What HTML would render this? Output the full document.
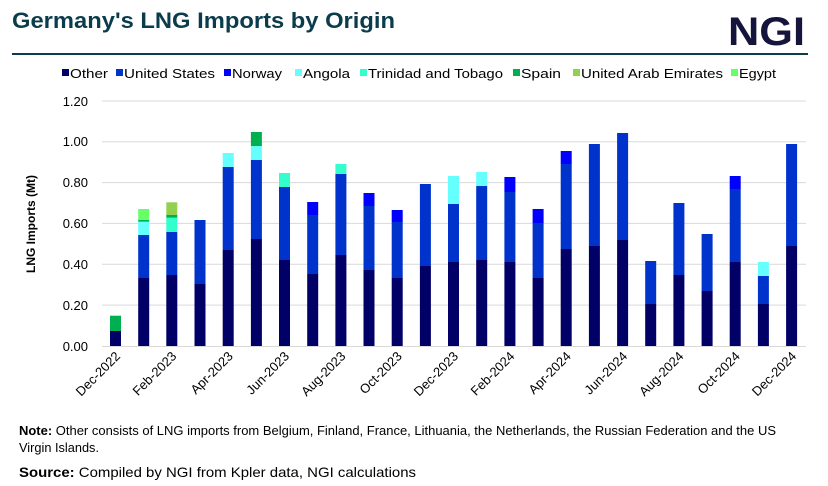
<!DOCTYPE html>
<html><head><meta charset="utf-8"><style>
body{margin:0;background:#fff;}
svg{display:block;font-family:"Liberation Sans",Arial,sans-serif;}
</style></head><body>
<svg width="828" height="486" viewBox="0 0 828 486" xmlns="http://www.w3.org/2000/svg">
<text x="12" y="28" font-size="22" font-weight="bold" fill="#0b3c4c" textLength="383" lengthAdjust="spacingAndGlyphs">Germany's LNG Imports by Origin</text>
<text x="728" y="45" font-size="40" font-weight="bold" fill="#14143c" textLength="77" lengthAdjust="spacingAndGlyphs">NGI</text>
<rect x="12" y="53" width="796" height="2" fill="#0b3c4c"/>
<g font-size="13" fill="#000">
<rect x="62" y="69" width="7" height="7" fill="#000066"/><text x="70" y="78" textLength="38" lengthAdjust="spacingAndGlyphs">Other</text>
<rect x="116" y="69" width="7" height="7" fill="#0033cc"/><text x="124" y="78" textLength="91" lengthAdjust="spacingAndGlyphs">United States</text>
<rect x="224" y="69" width="7" height="7" fill="#0000ff"/><text x="232" y="78" textLength="50" lengthAdjust="spacingAndGlyphs">Norway</text>
<rect x="295" y="69" width="7" height="7" fill="#66ffff"/><text x="303" y="78" textLength="47" lengthAdjust="spacingAndGlyphs">Angola</text>
<rect x="360" y="69" width="7" height="7" fill="#33ffcc"/><text x="368" y="78" textLength="135" lengthAdjust="spacingAndGlyphs">Trinidad and Tobago</text>
<rect x="513" y="69" width="7" height="7" fill="#00b050"/><text x="521" y="78" textLength="40" lengthAdjust="spacingAndGlyphs">Spain</text>
<rect x="573" y="69" width="7" height="7" fill="#92d050"/><text x="581" y="78" textLength="142" lengthAdjust="spacingAndGlyphs">United Arab Emirates</text>
<rect x="731" y="69" width="7" height="7" fill="#66ff66"/><text x="739" y="78" textLength="37" lengthAdjust="spacingAndGlyphs">Egypt</text>
</g>
<g stroke="#d9d9d9" stroke-width="1">
<line x1="102" x2="806" y1="305.1" y2="305.1"/><line x1="102" x2="806" y1="264.3" y2="264.3"/>
<line x1="102" x2="806" y1="223.4" y2="223.4"/><line x1="102" x2="806" y1="182.6" y2="182.6"/>
<line x1="102" x2="806" y1="141.7" y2="141.7"/><line x1="102" x2="806" y1="101" y2="101"/>
<line x1="102" x2="806" y1="346.5" y2="346.5"/>
</g>
<g font-size="13" fill="#000" text-anchor="end">
<text x="88" y="351">0.00</text><text x="88" y="310">0.20</text><text x="88" y="269">0.40</text>
<text x="88" y="228">0.60</text><text x="88" y="187">0.80</text><text x="88" y="146">1.00</text><text x="88" y="106">1.20</text>
</g>
<text transform="translate(35,224) rotate(-90)" text-anchor="middle" font-size="12" font-weight="bold">LNG Imports (Mt)</text>
<g>
<rect x="110" y="331" width="11" height="15" fill="#000066"/><rect x="110" y="315.7" width="11" height="15.3" fill="#00b050"/>
<rect x="138.2" y="278" width="11" height="68" fill="#000066"/><rect x="138.2" y="235" width="11" height="43" fill="#0033cc"/><rect x="138.2" y="221.7" width="11" height="13.3" fill="#66ffff"/><rect x="138.2" y="220" width="11" height="1.7" fill="#00b050"/><rect x="138.2" y="209" width="11" height="11" fill="#66ff66"/>
<rect x="166.3" y="275" width="11" height="71" fill="#000066"/><rect x="166.3" y="232" width="11" height="43" fill="#0033cc"/><rect x="166.3" y="217.7" width="11" height="14.3" fill="#33ffcc"/><rect x="166.3" y="215" width="11" height="2.7" fill="#00b050"/><rect x="166.3" y="202.3" width="11" height="12.7" fill="#92d050"/>
<rect x="194.5" y="284" width="11" height="62" fill="#000066"/><rect x="194.5" y="220" width="11" height="64" fill="#0033cc"/>
<rect x="222.7" y="250" width="11" height="96" fill="#000066"/><rect x="222.7" y="167" width="11" height="83" fill="#0033cc"/><rect x="222.7" y="153" width="11" height="14" fill="#66ffff"/>
<rect x="250.9" y="239" width="11" height="107" fill="#000066"/><rect x="250.9" y="160" width="11" height="79" fill="#0033cc"/><rect x="250.9" y="146" width="11" height="14" fill="#66ffff"/><rect x="250.9" y="132" width="11" height="14" fill="#00b050"/>
<rect x="279" y="260" width="11" height="86" fill="#000066"/><rect x="279" y="187" width="11" height="73" fill="#0033cc"/><rect x="279" y="173" width="11" height="14" fill="#33ffcc"/>
<rect x="307.2" y="274" width="11" height="72" fill="#000066"/><rect x="307.2" y="215" width="11" height="59" fill="#0033cc"/><rect x="307.2" y="202" width="11" height="13" fill="#0000ff"/>
<rect x="335.4" y="255" width="11" height="91" fill="#000066"/><rect x="335.4" y="174" width="11" height="81" fill="#0033cc"/><rect x="335.4" y="164" width="11" height="10" fill="#33ffcc"/>
<rect x="363.5" y="270" width="11" height="76" fill="#000066"/><rect x="363.5" y="206" width="11" height="64" fill="#0033cc"/><rect x="363.5" y="193" width="11" height="13" fill="#0000ff"/>
<rect x="391.7" y="278" width="11" height="68" fill="#000066"/><rect x="391.7" y="222" width="11" height="56" fill="#0033cc"/><rect x="391.7" y="210" width="11" height="12" fill="#0000ff"/>
<rect x="419.9" y="266" width="11" height="80" fill="#000066"/><rect x="419.9" y="184" width="11" height="82" fill="#0033cc"/>
<rect x="448" y="262" width="11" height="84" fill="#000066"/><rect x="448" y="204" width="11" height="58" fill="#0033cc"/><rect x="448" y="176" width="11" height="28" fill="#66ffff"/>
<rect x="476.2" y="260" width="11" height="86" fill="#000066"/><rect x="476.2" y="186" width="11" height="74" fill="#0033cc"/><rect x="476.2" y="172" width="11" height="14" fill="#66ffff"/>
<rect x="504.4" y="262" width="11" height="84" fill="#000066"/><rect x="504.4" y="192" width="11" height="70" fill="#0033cc"/><rect x="504.4" y="177" width="11" height="15" fill="#0000ff"/>
<rect x="532.6" y="278" width="11" height="68" fill="#000066"/><rect x="532.6" y="223" width="11" height="55" fill="#0033cc"/><rect x="532.6" y="209" width="11" height="14" fill="#0000ff"/>
<rect x="560.7" y="249" width="11" height="97" fill="#000066"/><rect x="560.7" y="164" width="11" height="85" fill="#0033cc"/><rect x="560.7" y="151" width="11" height="13" fill="#0000ff"/>
<rect x="588.9" y="246" width="11" height="100" fill="#000066"/><rect x="588.9" y="144" width="11" height="102" fill="#0033cc"/>
<rect x="617.1" y="240" width="11" height="106" fill="#000066"/><rect x="617.1" y="133" width="11" height="107" fill="#0033cc"/>
<rect x="645.2" y="304" width="11" height="42" fill="#000066"/><rect x="645.2" y="261" width="11" height="43" fill="#0033cc"/>
<rect x="673.4" y="275" width="11" height="71" fill="#000066"/><rect x="673.4" y="203" width="11" height="72" fill="#0033cc"/>
<rect x="701.6" y="291" width="11" height="55" fill="#000066"/><rect x="701.6" y="234" width="11" height="57" fill="#0033cc"/>
<rect x="729.7" y="262" width="11" height="84" fill="#000066"/><rect x="729.7" y="189" width="11" height="73" fill="#0033cc"/><rect x="729.7" y="176" width="11" height="13" fill="#0000ff"/>
<rect x="757.9" y="304" width="11" height="42" fill="#000066"/><rect x="757.9" y="276" width="11" height="28" fill="#0033cc"/><rect x="757.9" y="262" width="11" height="14" fill="#66ffff"/>
<rect x="786.1" y="246" width="11" height="100" fill="#000066"/><rect x="786.1" y="144" width="11" height="102" fill="#0033cc"/>
</g>
<g font-size="13" fill="#000" text-anchor="end">
<text transform="translate(121,357) rotate(-45)">Dec-2022</text>
<text transform="translate(177.3,357) rotate(-45)">Feb-2023</text>
<text transform="translate(233.7,357) rotate(-45)">Apr-2023</text>
<text transform="translate(290,357) rotate(-45)">Jun-2023</text>
<text transform="translate(346.4,357) rotate(-45)">Aug-2023</text>
<text transform="translate(402.7,357) rotate(-45)">Oct-2023</text>
<text transform="translate(459,357) rotate(-45)">Dec-2023</text>
<text transform="translate(515.4,357) rotate(-45)">Feb-2024</text>
<text transform="translate(571.7,357) rotate(-45)">Apr-2024</text>
<text transform="translate(628.1,357) rotate(-45)">Jun-2024</text>
<text transform="translate(684.4,357) rotate(-45)">Aug-2024</text>
<text transform="translate(740.7,357) rotate(-45)">Oct-2024</text>
<text transform="translate(797.1,357) rotate(-45)">Dec-2024</text>
</g>
<text x="19" y="435" font-size="13" textLength="757" lengthAdjust="spacingAndGlyphs"><tspan font-weight="bold">Note:</tspan> Other consists of LNG imports from Belgium, Finland, France, Lithuania, the Netherlands, the Russian Federation and the US</text>
<text x="19" y="452" font-size="13" textLength="80" lengthAdjust="spacingAndGlyphs">Virgin Islands.</text>
<text x="19" y="477" font-size="14" textLength="397" lengthAdjust="spacingAndGlyphs"><tspan font-weight="bold">Source:</tspan> Compiled by NGI from Kpler data, NGI calculations</text>
</svg>
</body></html>
